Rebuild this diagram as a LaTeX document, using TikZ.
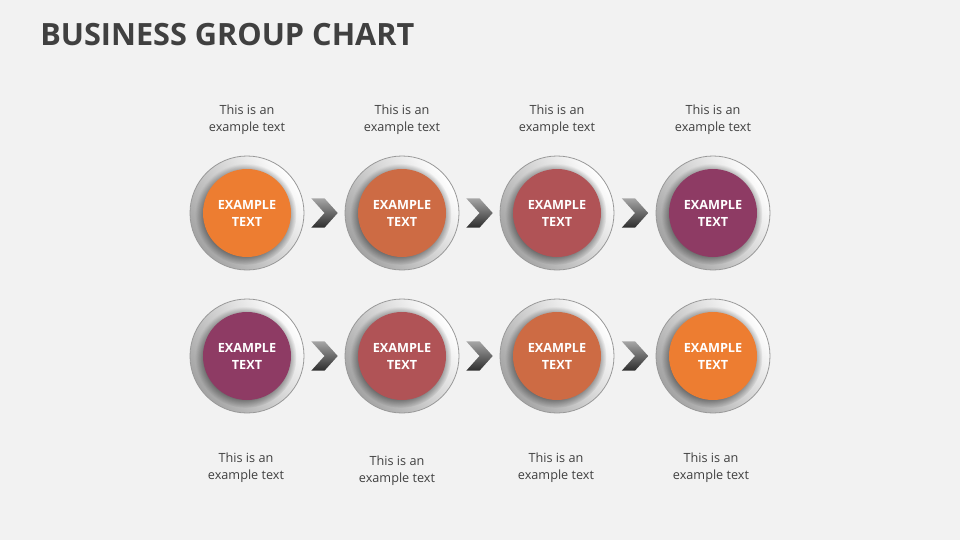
\documentclass[tikz,border=0pt]{standalone}
\usepackage{fontspec}
\setmainfont{Open Sans}
\usetikzlibrary{calc, shapes.symbols, fadings}

\definecolor{bgGray}{HTML}{F2F2F2}
\definecolor{inkGray}{HTML}{404040}
\definecolor{orangeA}{HTML}{ED7D31}
\definecolor{rustB}{HTML}{CD6B44}
\definecolor{roseC}{HTML}{B05356}
\definecolor{plumD}{HTML}{8E3B64}

\begin{document}
\begin{tikzpicture}[x=0.75pt, y=-0.75pt,
  ring/.style={circle, minimum size=85.5pt, inner sep=0pt, draw=gray!80, line width=0.6pt,
    top color=white, bottom color=gray!72, shading angle=-55},
  halo/.style={circle, minimum size=76pt, inner sep=0pt, fill=black, fill opacity=0.45,
    path fading=circle with fuzzy edge 20 percent},
  disk/.style={circle, minimum size=66pt, inner sep=0pt, fill=#1, text=white, align=center,
    font=\fontsize{9.5}{12.75}\selectfont\bfseries},
  chev/.style={signal, signal to=east, signal from=west, signal pointer angle=96,
    minimum width=17.5pt, minimum height=22pt, inner sep=0pt,
    top color=gray!70, bottom color=gray!35!black},
  note/.style={text=inkGray, align=center, font=\fontsize{9.5}{12.5}\selectfont}
]
% Background
\fill[bgGray] (0,0) rectangle (960,540);
\useasboundingbox (0,0) rectangle (960,540);

% Title
\node[anchor=base west, inner sep=0pt, text=inkGray,
  font=\fontsize{23}{28}\selectfont\bfseries] (title) at (40,45) {BUSINESS GROUP CHART};

% Top row
\node[ring] (r1) at (247,213) {};
\node[halo] (h1) at ($(r1)+(-1.2,1.2)$) {};
\node[disk=orangeA] (d1) at (r1) {EXAMPLE\\TEXT};
\node[ring] (r2) at (402,213) {};
\node[halo] (h2) at ($(r2)+(-1.2,1.2)$) {};
\node[disk=rustB] (d2) at (r2) {EXAMPLE\\TEXT};
\node[ring] (r3) at (557,213) {};
\node[halo] (h3) at ($(r3)+(-1.2,1.2)$) {};
\node[disk=roseC] (d3) at (r3) {EXAMPLE\\TEXT};
\node[ring] (r4) at (713,213) {};
\node[halo] (h4) at ($(r4)+(-1.2,1.2)$) {};
\node[disk=plumD] (d4) at (r4) {EXAMPLE\\TEXT};

% Bottom row
\node[ring] (r5) at (247,356) {};
\node[halo] (h5) at ($(r5)+(-1.2,1.2)$) {};
\node[disk=plumD] (d5) at (r5) {EXAMPLE\\TEXT};
\node[ring] (r6) at (402,356) {};
\node[halo] (h6) at ($(r6)+(-1.2,1.2)$) {};
\node[disk=roseC] (d6) at (r6) {EXAMPLE\\TEXT};
\node[ring] (r7) at (557,356) {};
\node[halo] (h7) at ($(r7)+(-1.2,1.2)$) {};
\node[disk=rustB] (d7) at (r7) {EXAMPLE\\TEXT};
\node[ring] (r8) at (713,356) {};
\node[halo] (h8) at ($(r8)+(-1.2,1.2)$) {};
\node[disk=orangeA] (d8) at (r8) {EXAMPLE\\TEXT};

% Chevrons between the rings
\node[chev] (v1) at ($(r1)!0.5!(r2)$) {};
\node[chev] (v2) at ($(r2)!0.5!(r3)$) {};
\node[chev] (v3) at ($(r3)!0.5!(r4)$) {};
\node[chev] (v4) at ($(r5)!0.5!(r6)$) {};
\node[chev] (v5) at ($(r6)!0.5!(r7)$) {};
\node[chev] (v6) at ($(r7)!0.5!(r8)$) {};

% Captions
\node[note] (t1) at (247,119.5) {This is an\\example text};
\node[note] (t2) at (402,119.5) {This is an\\example text};
\node[note] (t3) at (557,119.5) {This is an\\example text};
\node[note] (t4) at (713,119.5) {This is an\\example text};
\node[note] (b1) at (246,467.5) {This is an\\example text};
\node[note] (b2) at (397,471) {This is an\\example text};
\node[note] (b3) at (556,467.5) {This is an\\example text};
\node[note] (b4) at (711,467.5) {This is an\\example text};
\end{tikzpicture}
\end{document}
